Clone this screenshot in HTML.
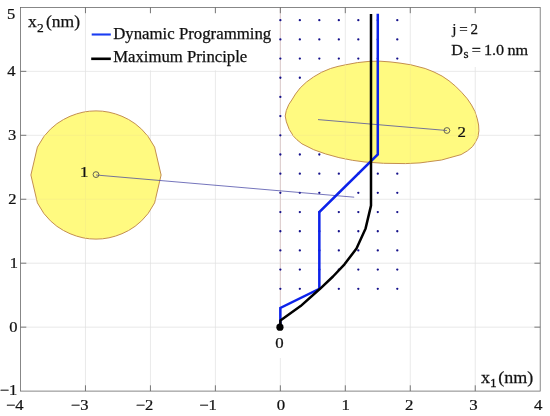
<!DOCTYPE html>
<html><head><meta charset="utf-8"><title>Trajectory plot</title>
<style>html,body{margin:0;padding:0;background:#fff}svg{display:block}text{font-family:"Liberation Serif","DejaVu Serif",serif;fill:#111}</style></head><body>
<svg width="550" height="416" viewBox="0 0 550 416">
<rect x="0" y="0" width="550" height="416" fill="#fff"/>
<line x1="85.46" y1="7.40" x2="85.46" y2="391.10" stroke="#e1e1e1" stroke-width="0.75"/>
<line x1="150.43" y1="7.40" x2="150.43" y2="391.10" stroke="#e1e1e1" stroke-width="0.75"/>
<line x1="215.39" y1="7.40" x2="215.39" y2="391.10" stroke="#e1e1e1" stroke-width="0.75"/>
<line x1="280.35" y1="7.40" x2="280.35" y2="391.10" stroke="#e1e1e1" stroke-width="0.75"/>
<line x1="345.31" y1="7.40" x2="345.31" y2="391.10" stroke="#e1e1e1" stroke-width="0.75"/>
<line x1="410.28" y1="7.40" x2="410.28" y2="391.10" stroke="#e1e1e1" stroke-width="0.75"/>
<line x1="475.24" y1="7.40" x2="475.24" y2="391.10" stroke="#e1e1e1" stroke-width="0.75"/>
<line x1="20.50" y1="327.15" x2="540.20" y2="327.15" stroke="#e1e1e1" stroke-width="0.75"/>
<line x1="20.50" y1="263.20" x2="540.20" y2="263.20" stroke="#e1e1e1" stroke-width="0.75"/>
<line x1="20.50" y1="199.25" x2="540.20" y2="199.25" stroke="#e1e1e1" stroke-width="0.75"/>
<line x1="20.50" y1="135.30" x2="540.20" y2="135.30" stroke="#e1e1e1" stroke-width="0.75"/>
<line x1="20.50" y1="71.35" x2="540.20" y2="71.35" stroke="#e1e1e1" stroke-width="0.75"/>
<line x1="280.35" y1="7.40" x2="280.35" y2="327.15" stroke="#dccaca" stroke-width="1"/>
<rect x="88" y="13.4" width="188" height="56.9" fill="#fff"/>
<rect x="448" y="13.4" width="84" height="53.6" fill="#fff"/>
<rect x="272" y="329" width="16" height="29" fill="#fff"/>
<polygon points="30.9,175.0 37.4,147.1 43.9,136.5 50.4,129.2 56.9,123.7 63.5,119.5 70.0,116.3 76.5,113.9 83.0,112.2 89.5,111.2 96.0,110.9 102.5,111.2 109.0,112.2 115.5,113.9 122.0,116.3 128.6,119.5 135.1,123.7 141.6,129.2 148.1,136.5 154.6,147.1 161.1,175.0 154.6,202.9 148.1,213.5 141.6,220.8 135.1,226.3 128.6,230.5 122.0,233.7 115.5,236.1 109.0,237.8 102.5,238.8 96.0,239.1 89.5,238.8 83.0,237.8 76.5,236.1 70.0,233.7 63.5,230.5 56.9,226.3 50.4,220.8 43.9,213.5 37.4,202.9" fill="#fffa80" stroke="#c48f50" stroke-width="1" stroke-linejoin="round"/>
<polygon points="285.2,116.0 286.3,110.5 288.8,104.5 291.8,100.0 295.5,94.0 300.2,87.9 306.5,82.0 313.6,76.9 321.5,72.3 330.5,68.5 338.0,66.4 345.6,64.8 357.4,62.6 370.0,61.3 380.0,61.2 390.0,61.9 400.0,63.1 410.9,64.8 425.2,68.5 434.0,72.0 442.1,76.1 449.0,80.8 455.5,86.2 461.5,92.2 467.3,98.8 471.5,105.0 474.9,111.4 477.3,118.9 478.6,125.0 478.9,130.8 477.9,137.3 475.1,142.7 472.5,146.6 467.5,150.8 461.1,154.6 449.1,157.9 441.6,160.0 427.3,161.9 420.0,162.9 405.5,163.6 383.6,163.3 365.0,162.0 352.4,160.3 338.9,157.6 325.5,153.9 313.7,149.7 301.9,143.8 297.0,139.8 293.5,136.2 289.3,129.5 286.4,121.9" fill="#fffa80" stroke="#c48f50" stroke-width="1" stroke-linejoin="round"/>
<clipPath id="cl"><polygon points="30.9,175.0 37.4,147.1 43.9,136.5 50.4,129.2 56.9,123.7 63.5,119.5 70.0,116.3 76.5,113.9 83.0,112.2 89.5,111.2 96.0,110.9 102.5,111.2 109.0,112.2 115.5,113.9 122.0,116.3 128.6,119.5 135.1,123.7 141.6,129.2 148.1,136.5 154.6,147.1 161.1,175.0 154.6,202.9 148.1,213.5 141.6,220.8 135.1,226.3 128.6,230.5 122.0,233.7 115.5,236.1 109.0,237.8 102.5,238.8 96.0,239.1 89.5,238.8 83.0,237.8 76.5,236.1 70.0,233.7 63.5,230.5 56.9,226.3 50.4,220.8 43.9,213.5 37.4,202.9"/><polygon points="285.2,116.0 286.3,110.5 288.8,104.5 291.8,100.0 295.5,94.0 300.2,87.9 306.5,82.0 313.6,76.9 321.5,72.3 330.5,68.5 338.0,66.4 345.6,64.8 357.4,62.6 370.0,61.3 380.0,61.2 390.0,61.9 400.0,63.1 410.9,64.8 425.2,68.5 434.0,72.0 442.1,76.1 449.0,80.8 455.5,86.2 461.5,92.2 467.3,98.8 471.5,105.0 474.9,111.4 477.3,118.9 478.6,125.0 478.9,130.8 477.9,137.3 475.1,142.7 472.5,146.6 467.5,150.8 461.1,154.6 449.1,157.9 441.6,160.0 427.3,161.9 420.0,162.9 405.5,163.6 383.6,163.3 365.0,162.0 352.4,160.3 338.9,157.6 325.5,153.9 313.7,149.7 301.9,143.8 297.0,139.8 293.5,136.2 289.3,129.5 286.4,121.9"/></clipPath>
<g clip-path="url(#cl)">
<line x1="85.46" y1="110.00" x2="85.46" y2="239.00" stroke="#f8f184" stroke-width="0.9"/>
<line x1="31.00" y1="135.30" x2="162.00" y2="135.30" stroke="#f8f184" stroke-width="0.9"/>
<line x1="31.00" y1="199.25" x2="162.00" y2="199.25" stroke="#f8f184" stroke-width="0.9"/>
<line x1="345.31" y1="62.00" x2="345.31" y2="159.00" stroke="#f8f184" stroke-width="0.9"/>
<line x1="410.28" y1="64.00" x2="410.28" y2="164.00" stroke="#f8f184" stroke-width="0.9"/>
<line x1="475.24" y1="108.00" x2="475.24" y2="145.00" stroke="#f8f184" stroke-width="0.9"/>
<line x1="284.00" y1="135.30" x2="480.00" y2="135.30" stroke="#f8f184" stroke-width="0.9"/>
</g>
<circle cx="280.35" cy="288.78" r="1.15" fill="#14108a"/>
<circle cx="280.35" cy="269.59" r="1.15" fill="#14108a"/>
<circle cx="280.35" cy="250.41" r="1.15" fill="#14108a"/>
<circle cx="280.35" cy="231.23" r="1.15" fill="#14108a"/>
<circle cx="280.35" cy="212.04" r="1.15" fill="#14108a"/>
<circle cx="280.35" cy="192.86" r="1.15" fill="#14108a"/>
<circle cx="280.35" cy="173.67" r="1.15" fill="#14108a"/>
<circle cx="280.35" cy="154.49" r="1.15" fill="#14108a"/>
<circle cx="280.35" cy="135.30" r="1.15" fill="#14108a"/>
<circle cx="280.35" cy="116.12" r="1.15" fill="#14108a"/>
<circle cx="280.35" cy="96.93" r="1.15" fill="#14108a"/>
<circle cx="280.35" cy="77.75" r="1.15" fill="#14108a"/>
<circle cx="280.35" cy="58.56" r="1.15" fill="#14108a"/>
<circle cx="280.35" cy="39.38" r="1.15" fill="#14108a"/>
<circle cx="280.35" cy="20.19" r="1.15" fill="#14108a"/>
<circle cx="299.84" cy="288.78" r="1.15" fill="#14108a"/>
<circle cx="299.84" cy="269.59" r="1.15" fill="#14108a"/>
<circle cx="299.84" cy="250.41" r="1.15" fill="#14108a"/>
<circle cx="299.84" cy="231.23" r="1.15" fill="#14108a"/>
<circle cx="299.84" cy="212.04" r="1.15" fill="#14108a"/>
<circle cx="299.84" cy="192.86" r="1.15" fill="#14108a"/>
<circle cx="299.84" cy="173.67" r="1.15" fill="#14108a"/>
<circle cx="299.84" cy="154.49" r="1.15" fill="#14108a"/>
<circle cx="299.84" cy="77.75" r="1.15" fill="#14108a"/>
<circle cx="299.84" cy="58.56" r="1.15" fill="#14108a"/>
<circle cx="299.84" cy="39.38" r="1.15" fill="#14108a"/>
<circle cx="299.84" cy="20.19" r="1.15" fill="#14108a"/>
<circle cx="319.33" cy="288.78" r="1.15" fill="#14108a"/>
<circle cx="319.33" cy="269.59" r="1.15" fill="#14108a"/>
<circle cx="319.33" cy="250.41" r="1.15" fill="#14108a"/>
<circle cx="319.33" cy="231.23" r="1.15" fill="#14108a"/>
<circle cx="319.33" cy="212.04" r="1.15" fill="#14108a"/>
<circle cx="319.33" cy="192.86" r="1.15" fill="#14108a"/>
<circle cx="319.33" cy="173.67" r="1.15" fill="#14108a"/>
<circle cx="319.33" cy="154.49" r="1.15" fill="#14108a"/>
<circle cx="319.33" cy="58.56" r="1.15" fill="#14108a"/>
<circle cx="319.33" cy="39.38" r="1.15" fill="#14108a"/>
<circle cx="319.33" cy="20.19" r="1.15" fill="#14108a"/>
<circle cx="338.82" cy="288.78" r="1.15" fill="#14108a"/>
<circle cx="338.82" cy="269.59" r="1.15" fill="#14108a"/>
<circle cx="338.82" cy="250.41" r="1.15" fill="#14108a"/>
<circle cx="338.82" cy="231.23" r="1.15" fill="#14108a"/>
<circle cx="338.82" cy="212.04" r="1.15" fill="#14108a"/>
<circle cx="338.82" cy="192.86" r="1.15" fill="#14108a"/>
<circle cx="338.82" cy="173.67" r="1.15" fill="#14108a"/>
<circle cx="338.82" cy="58.56" r="1.15" fill="#14108a"/>
<circle cx="338.82" cy="39.38" r="1.15" fill="#14108a"/>
<circle cx="338.82" cy="20.19" r="1.15" fill="#14108a"/>
<circle cx="358.31" cy="288.78" r="1.15" fill="#14108a"/>
<circle cx="358.31" cy="269.59" r="1.15" fill="#14108a"/>
<circle cx="358.31" cy="250.41" r="1.15" fill="#14108a"/>
<circle cx="358.31" cy="231.23" r="1.15" fill="#14108a"/>
<circle cx="358.31" cy="212.04" r="1.15" fill="#14108a"/>
<circle cx="358.31" cy="192.86" r="1.15" fill="#14108a"/>
<circle cx="358.31" cy="173.67" r="1.15" fill="#14108a"/>
<circle cx="358.31" cy="58.56" r="1.15" fill="#14108a"/>
<circle cx="358.31" cy="39.38" r="1.15" fill="#14108a"/>
<circle cx="358.31" cy="20.19" r="1.15" fill="#14108a"/>
<circle cx="377.79" cy="288.78" r="1.15" fill="#14108a"/>
<circle cx="377.79" cy="269.59" r="1.15" fill="#14108a"/>
<circle cx="377.79" cy="250.41" r="1.15" fill="#14108a"/>
<circle cx="377.79" cy="231.23" r="1.15" fill="#14108a"/>
<circle cx="377.79" cy="212.04" r="1.15" fill="#14108a"/>
<circle cx="377.79" cy="192.86" r="1.15" fill="#14108a"/>
<circle cx="377.79" cy="173.67" r="1.15" fill="#14108a"/>
<circle cx="377.79" cy="58.56" r="1.15" fill="#14108a"/>
<circle cx="377.79" cy="39.38" r="1.15" fill="#14108a"/>
<circle cx="377.79" cy="20.19" r="1.15" fill="#14108a"/>
<circle cx="397.28" cy="288.78" r="1.15" fill="#14108a"/>
<circle cx="397.28" cy="269.59" r="1.15" fill="#14108a"/>
<circle cx="397.28" cy="250.41" r="1.15" fill="#14108a"/>
<circle cx="397.28" cy="231.23" r="1.15" fill="#14108a"/>
<circle cx="397.28" cy="212.04" r="1.15" fill="#14108a"/>
<circle cx="397.28" cy="192.86" r="1.15" fill="#14108a"/>
<circle cx="397.28" cy="173.67" r="1.15" fill="#14108a"/>
<circle cx="397.28" cy="58.56" r="1.15" fill="#14108a"/>
<circle cx="397.28" cy="39.38" r="1.15" fill="#14108a"/>
<circle cx="397.28" cy="20.19" r="1.15" fill="#14108a"/>
<line x1="96" y1="175" x2="354.2" y2="197.2" stroke="rgba(60,60,160,0.75)" stroke-width="0.95"/>
<line x1="446.9" y1="130.5" x2="318" y2="119.6" stroke="rgba(60,60,160,0.75)" stroke-width="0.95"/>
<circle cx="96" cy="174.6" r="2.9" fill="none" stroke="#4a4a4a" stroke-width="0.85"/>
<circle cx="446.9" cy="130.5" r="2.9" fill="none" stroke="#4a4a4a" stroke-width="0.85"/>
<polyline points="377.79,13.79 377.79,154.49 319.33,212.04 319.33,288.78 280.35,307.96 280.35,327.15" fill="none" stroke="#0c22ea" stroke-width="2.5" stroke-linejoin="miter"/>
<polyline points="371.00,14.00 371.00,205.60 365.60,228.40 356.50,248.50 344.50,264.30 333.00,276.50 320.00,288.80 300.60,306.10 280.40,320.40 280.40,327.20" fill="none" stroke="#000" stroke-width="2.5" stroke-linejoin="round"/>
<circle cx="279.95" cy="327.15" r="3.6" fill="#000"/>
<rect x="20.50" y="7.40" width="519.70" height="383.70" fill="none" stroke="#6a6a6a" stroke-width="0.8"/>
<line x1="85.46" y1="391.10" x2="85.46" y2="385.30" stroke="#6a6a6a" stroke-width="0.9"/>
<line x1="85.46" y1="7.40" x2="85.46" y2="13.20" stroke="#6a6a6a" stroke-width="0.9"/>
<line x1="150.43" y1="391.10" x2="150.43" y2="385.30" stroke="#6a6a6a" stroke-width="0.9"/>
<line x1="150.43" y1="7.40" x2="150.43" y2="13.20" stroke="#6a6a6a" stroke-width="0.9"/>
<line x1="215.39" y1="391.10" x2="215.39" y2="385.30" stroke="#6a6a6a" stroke-width="0.9"/>
<line x1="215.39" y1="7.40" x2="215.39" y2="13.20" stroke="#6a6a6a" stroke-width="0.9"/>
<line x1="280.35" y1="391.10" x2="280.35" y2="385.30" stroke="#6a6a6a" stroke-width="0.9"/>
<line x1="280.35" y1="7.40" x2="280.35" y2="13.20" stroke="#6a6a6a" stroke-width="0.9"/>
<line x1="345.31" y1="391.10" x2="345.31" y2="385.30" stroke="#6a6a6a" stroke-width="0.9"/>
<line x1="345.31" y1="7.40" x2="345.31" y2="13.20" stroke="#6a6a6a" stroke-width="0.9"/>
<line x1="410.28" y1="391.10" x2="410.28" y2="385.30" stroke="#6a6a6a" stroke-width="0.9"/>
<line x1="410.28" y1="7.40" x2="410.28" y2="13.20" stroke="#6a6a6a" stroke-width="0.9"/>
<line x1="475.24" y1="391.10" x2="475.24" y2="385.30" stroke="#6a6a6a" stroke-width="0.9"/>
<line x1="475.24" y1="7.40" x2="475.24" y2="13.20" stroke="#6a6a6a" stroke-width="0.9"/>
<line x1="20.50" y1="327.15" x2="26.30" y2="327.15" stroke="#6a6a6a" stroke-width="0.9"/>
<line x1="540.20" y1="327.15" x2="534.40" y2="327.15" stroke="#6a6a6a" stroke-width="0.9"/>
<line x1="20.50" y1="263.20" x2="26.30" y2="263.20" stroke="#6a6a6a" stroke-width="0.9"/>
<line x1="540.20" y1="263.20" x2="534.40" y2="263.20" stroke="#6a6a6a" stroke-width="0.9"/>
<line x1="20.50" y1="199.25" x2="26.30" y2="199.25" stroke="#6a6a6a" stroke-width="0.9"/>
<line x1="540.20" y1="199.25" x2="534.40" y2="199.25" stroke="#6a6a6a" stroke-width="0.9"/>
<line x1="20.50" y1="135.30" x2="26.30" y2="135.30" stroke="#6a6a6a" stroke-width="0.9"/>
<line x1="540.20" y1="135.30" x2="534.40" y2="135.30" stroke="#6a6a6a" stroke-width="0.9"/>
<line x1="20.50" y1="71.35" x2="26.30" y2="71.35" stroke="#6a6a6a" stroke-width="0.9"/>
<line x1="540.20" y1="71.35" x2="534.40" y2="71.35" stroke="#6a6a6a" stroke-width="0.9"/>
<text transform="translate(15.20,18.80) scale(1.1,1)" font-size="15" text-anchor="end" stroke="#111" stroke-width="0.25">5</text>
<text transform="translate(15.60,76.45) scale(1.1,1)" font-size="15" text-anchor="end" stroke="#111" stroke-width="0.25">4</text>
<text transform="translate(16.20,140.40) scale(1.1,1)" font-size="15" text-anchor="end" stroke="#111" stroke-width="0.25">3</text>
<text transform="translate(16.60,204.35) scale(1.1,1)" font-size="15" text-anchor="end" stroke="#111" stroke-width="0.25">2</text>
<text transform="translate(18.00,268.30) scale(1.1,1)" font-size="15" text-anchor="end" stroke="#111" stroke-width="0.25">1</text>
<text transform="translate(17.50,332.25) scale(1.1,1)" font-size="15" text-anchor="end" stroke="#111" stroke-width="0.25">0</text>
<text transform="translate(17.20,395.00) scale(1.1,1)" font-size="15" text-anchor="end" stroke="#111" stroke-width="0.25">−1</text>
<text transform="translate(23.60,409.50) scale(1.1,1)" font-size="15" text-anchor="end" stroke="#111" stroke-width="0.25">−4</text>
<text transform="translate(88.40,409.50) scale(1.1,1)" font-size="15" text-anchor="end" stroke="#111" stroke-width="0.25">−3</text>
<text transform="translate(153.20,409.50) scale(1.1,1)" font-size="15" text-anchor="end" stroke="#111" stroke-width="0.25">−2</text>
<text transform="translate(216.70,409.50) scale(1.1,1)" font-size="15" text-anchor="end" stroke="#111" stroke-width="0.25">−1</text>
<text transform="translate(280.90,409.50) scale(1.12,1)" font-size="15" text-anchor="middle" stroke="#111" stroke-width="0.25">0</text>
<text transform="translate(345.80,409.50) scale(1.12,1)" font-size="15" text-anchor="middle" stroke="#111" stroke-width="0.25">1</text>
<text transform="translate(409.30,409.50) scale(1.12,1)" font-size="15" text-anchor="middle" stroke="#111" stroke-width="0.25">2</text>
<text transform="translate(473.50,409.50) scale(1.12,1)" font-size="15" text-anchor="middle" stroke="#111" stroke-width="0.25">3</text>
<text transform="translate(538.30,409.50) scale(1.12,1)" font-size="15" text-anchor="middle" stroke="#111" stroke-width="0.25">4</text>
<text transform="translate(28.00,27.30) scale(1.0,1)" font-size="17.5" text-anchor="start" stroke="#111" stroke-width="0.25">x<tspan font-size="13.5" dy="5" dx="0.3">2</tspan><tspan dy="-5" dx="2.2">(nm)</tspan></text>
<text transform="translate(481.00,382.70) scale(1.03,1)" font-size="17.5" text-anchor="start" stroke="#111" stroke-width="0.25">x<tspan font-size="13" dy="4">1</tspan><tspan dy="-4" dx="1.6">(nm)</tspan></text>
<line x1="91.7" y1="34.5" x2="110.8" y2="34.5" stroke="#1a3cf2" stroke-width="2.1"/>
<line x1="91.2" y1="58.8" x2="110.8" y2="58.8" stroke="#000" stroke-width="2.6"/>
<text x="113.2" y="38.8" font-size="15.8" stroke="#111" stroke-width="0.25" textLength="158" lengthAdjust="spacingAndGlyphs">Dynamic Programming</text>
<text x="113.2" y="62.3" font-size="15.8" stroke="#111" stroke-width="0.25" textLength="134" lengthAdjust="spacingAndGlyphs">Maximum Principle</text>
<text transform="translate(452.30,34.00) scale(1.0,1)" font-size="15" text-anchor="start" stroke="#111" stroke-width="0.25"><tspan word-spacing="-1.0">j = 2</tspan></text>
<text transform="translate(451.30,54.50) scale(1.08,1)" font-size="15" text-anchor="start" stroke="#111" stroke-width="0.25">D<tspan font-size="12" dy="3" dx="0.4">s</tspan><tspan dy="-3" word-spacing="-0.8"> = 1.0 nm</tspan></text>
<text transform="translate(279.40,347.80) scale(1.12,1)" font-size="15" text-anchor="middle" stroke="#111" stroke-width="0.25">0</text>
<text transform="translate(84.10,176.60) scale(1.12,1)" font-size="15" text-anchor="middle" stroke="#111" stroke-width="0.25">1</text>
<text transform="translate(461.70,136.50) scale(1.12,1)" font-size="15" text-anchor="middle" stroke="#111" stroke-width="0.25">2</text>
</svg></body></html>
